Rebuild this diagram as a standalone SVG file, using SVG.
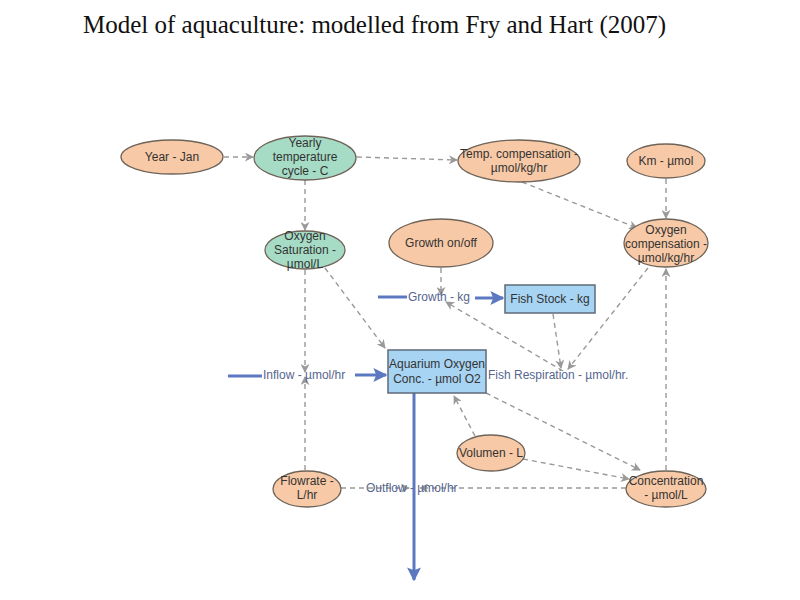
<svg xmlns="http://www.w3.org/2000/svg" width="800" height="600" viewBox="0 0 800 600">
<defs>
<marker id="ga" viewBox="0 0 10 10" refX="9" refY="5" markerWidth="9" markerHeight="9" markerUnits="userSpaceOnUse" orient="auto"><path d="M0,0 L10,5 L0,10 L3,5 z" fill="#999"/></marker>
<marker id="ba" viewBox="0 0 10 10" refX="9" refY="5" markerWidth="14" markerHeight="14" markerUnits="userSpaceOnUse" orient="auto"><path d="M0,0 L10,5 L0,10 L2,5 z" fill="#5b78c0"/></marker>
<style>
.or{fill:#f8c9a6;stroke:#6e6358;stroke-width:1.3}
.gr{fill:#a6dcc6;stroke:#6e6358;stroke-width:1.3}
.bx{fill:#a8d4f4;stroke:#5e6a78;stroke-width:1.5}
.t{font-family:"Liberation Sans",Arial,sans-serif;font-size:12px;fill:#333;text-anchor:middle}
.fl{font-family:"Liberation Sans",Arial,sans-serif;font-size:12px;fill:#56668e}
.d{fill:none;stroke:#999;stroke-width:1.4;stroke-dasharray:5,4;marker-end:url(#ga)}
.f{fill:none;stroke:#5b78c0;stroke-width:3}
.fa{fill:none;stroke:#5b78c0;stroke-width:3;marker-end:url(#ba)}
</style>
</defs>
<rect width="800" height="600" fill="#fff"/>
<text x="83" y="33" font-family="'Liberation Serif','Times New Roman',serif" font-size="25" fill="#111">Model of aquaculture: modelled from Fry and Hart (2007)</text>

<g id="connectors">
<path class="d" d="M224,157 L253,157"/>
<path class="d" d="M357,157 L457,160"/>
<path class="d" d="M305,180 L305,230"/>
<path class="d" d="M522,182 L637,228"/>
<path class="d" d="M666,179 L666,218"/>
<path class="d" d="M441,268 L441,295"/>
<path class="d" d="M563,371 L446,302"/>
<path class="d" d="M553,314 L561,368"/>
<path class="d" d="M648,268 L568,369"/>
<path class="d" d="M325,268 L385,348"/>
<path class="d" d="M305,270 L305,372"/>
<path class="d" d="M305,470 L305,377"/>
<path class="d" d="M341,488 L409,488"/>
<path class="d" d="M626,488 L420,488"/>
<path class="d" d="M475,436 L454,396"/>
<path class="d" d="M523,459 L629,479"/>
<path class="d" d="M486,393 L640,470"/>
<path class="d" d="M666,470 L666,269"/>
<path class="f" d="M378,297 L407,297"/>
<path class="fa" d="M475,298 L503,298"/>
<path class="f" d="M228,376 L262,376"/>
<path class="fa" d="M355,375 L386,375"/>
<path class="fa" d="M414,393 L414,580"/>
<text class="fl" x="408" y="301">Growth - kg</text>
<text class="fl" x="263" y="379">Inflow - µmol/hr</text>
<text class="fl" x="488" y="379">Fish Respiration - µmol/hr.</text>
<text class="fl" x="366" y="492">Outflow - µmol/hr</text>
</g>

<g id="year"><ellipse class="or" cx="172" cy="157" rx="51" ry="17"/><text class="t" x="172" y="161">Year - Jan</text></g>
<g id="yearly"><ellipse class="gr" cx="305" cy="158" rx="51" ry="22"/><text class="t" x="305" y="147">Yearly</text><text class="t" x="305" y="161">temperature</text><text class="t" x="305" y="175">cycle - C</text></g>
<g id="tempcomp"><ellipse class="or" cx="519" cy="161" rx="61" ry="21"/><text class="t" x="519" y="158">Temp. compensation -</text><text class="t" x="519" y="172">µmol/kg/hr</text></g>
<g id="km"><ellipse class="or" cx="666" cy="161" rx="39" ry="17"/><text class="t" x="666" y="165">Km - µmol</text></g>
<g id="oxsat"><ellipse class="gr" cx="305" cy="250" rx="40" ry="19"/><text class="t" x="305" y="240">Oxygen</text><text class="t" x="305" y="254">Saturation -</text><text class="t" x="305" y="268">µmol/L</text></g>
<g id="growth"><ellipse class="or" cx="441" cy="243" rx="52" ry="24"/><text class="t" x="441" y="247">Growth on/off</text></g>
<g id="oxcomp"><ellipse class="or" cx="666" cy="243" rx="42" ry="24"/><text class="t" x="666" y="234">Oxygen</text><text class="t" x="666" y="248">compensation -</text><text class="t" x="666" y="262">µmol/kg/hr</text></g>
<g id="fishstock"><rect class="bx" x="505" y="285" width="90" height="28"/><text class="t" x="550" y="303">Fish Stock - kg</text></g>
<g id="aquarium"><rect class="bx" x="388" y="350" width="98" height="43"/><text class="t" x="437" y="368">Aquarium Oxygen</text><text class="t" x="437" y="383">Conc. - µmol O2</text></g>
<g id="volumen"><ellipse class="or" cx="491" cy="453" rx="34" ry="18"/><text class="t" x="491" y="457">Volumen - L</text></g>
<g id="flowrate"><ellipse class="or" cx="307" cy="489" rx="34" ry="18"/><text class="t" x="307" y="485">Flowrate -</text><text class="t" x="307" y="499">L/hr</text></g>
<g id="concentration"><ellipse class="or" cx="666" cy="489" rx="40" ry="18"/><text class="t" x="666" y="485">Concentration</text><text class="t" x="666" y="499">- µmol/L</text></g>
</svg>
